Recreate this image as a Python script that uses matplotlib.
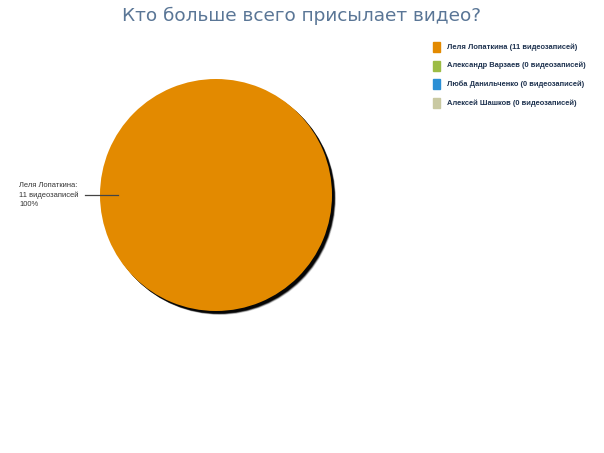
import matplotlib
matplotlib.use("Agg")
import matplotlib.pyplot as plt
from matplotlib.patches import Rectangle, Circle
from matplotlib.lines import Line2D

W, H = 604, 453

title = "Кто больше всего присылает видео?"
names = ["Леля Лопаткина", "Александр Варзаев", "Люба Данильченко", "Алексей Шашков"]
counts = [11, 0, 0, 0]
colors = ["#e38a00", "#9cbc45", "#2b8fd5", "#c9c9a2"]
unit = "видеозаписей"


def px(x, y):
    # pixel coords (from top-left) -> figure fraction
    return x / W, 1 - y / H


fig = plt.figure(figsize=(W / 100, H / 100), dpi=100)
fig.patch.set_facecolor("white")

cx, cy, r = 216, 195, 116
ax = fig.add_axes([(cx - r) / W, (H - cy - r * 1.05) / H, 2.05 * r / W, 2.05 * r / H])

# soft dark shadow behind the pie
for k, a in [(0.034, 0.15), (0.030, 0.3), (0.026, 0.6), (0.022, 0.9)]:
    ax.add_patch(Circle((k, -k), 1.0, color="black", alpha=a, lw=0, zorder=0))

vals = [c for c in counts if c > 0]
cols = [colors[i] for i, c in enumerate(counts) if c > 0]
wedges, _ = ax.pie(vals, colors=cols, startangle=90, counterclock=False,
                   radius=1, wedgeprops=dict(linewidth=0))
for w in wedges:
    w.set_zorder(2)
ax.set_xlim(-1, 1.05)
ax.set_ylim(-1.05, 1)
ax.set_aspect("equal")
ax.axis("off")
ax.set_position([(cx - r) / W, (H - cy - r * 1.05) / H, 2.05 * r / W, 2.05 * r / H])

fig.text(*px(302, 16), title, ha="center", va="center", fontsize=13.3,
         color="#5a7696", family="DejaVu Sans")

# slice label with leader line
total = sum(counts)
lx, ly = px(19, 195)
fig.text(lx, ly, f"{names[0]}:\n{counts[0]} {unit}\n{100 * counts[0] / total:.0f}%",
         ha="left", va="center", fontsize=5.4, color="#333333",
         linespacing=1.5, family="Liberation Sans")
x0, y0 = px(85, 195)
x1, _ = px(118, 195)
fig.add_artist(Line2D([x0, x1], [y0, y0], color="#444444", lw=0.9, zorder=5))

# legend
for i, (n, c, col) in enumerate(zip(names, counts, colors)):
    yc = 47 + i * 18.6
    bx, by = px(433, yc + 5)
    fig.add_artist(Rectangle((bx, by), 7 / W, 10 / H, color=col,
                             transform=fig.transFigure))
    tx, ty = px(447, yc)
    fig.text(tx, ty, f"{n} ({c} {unit})", ha="left", va="center",
             fontsize=5.4, fontweight="bold", color="#1f3350",
             family="Liberation Sans")

fig.savefig("out.png", dpi=100)
